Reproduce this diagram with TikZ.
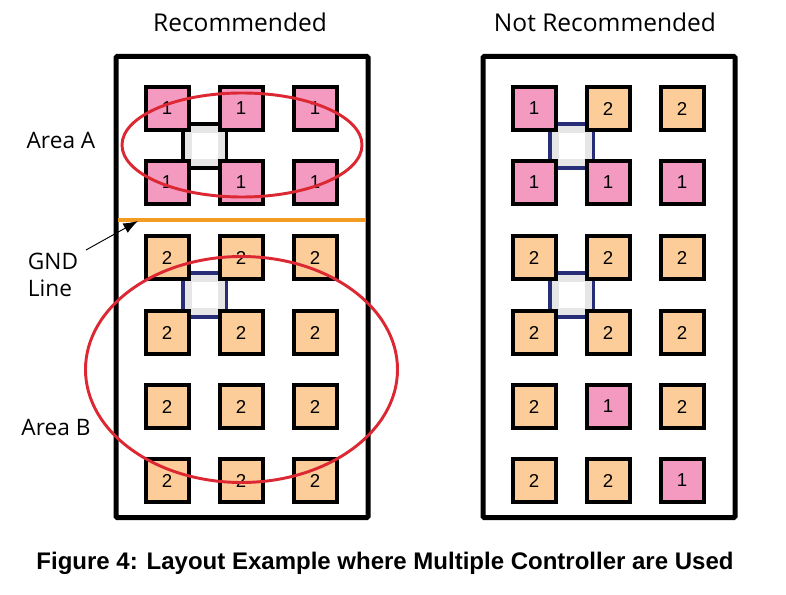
\documentclass[tikz,border=0pt]{standalone}
\usepackage{fontspec}
\setmainfont{Liberation Sans}
\newfontfamily\labelfont{Open Sans}
\usetikzlibrary{arrows.meta,positioning,shapes.geometric}

\begin{document}
\begin{tikzpicture}[
      x=0.75pt, y=-0.75pt,
      panel/.style={
          rectangle,
          rounded corners=1pt,
          draw=black,
          line width=3.75pt,
          minimum width=189pt,
          minimum height=346pt
        },
      pad/.style={
          rectangle,
          draw=black,
          line width=3pt,
          minimum width=32.25pt,
          minimum height=32.25pt,
          inner sep=0pt,
          font=\fontsize{14}{16}\selectfont
        },
      padone/.style={pad, fill=padpink},
      padtwo/.style={pad, fill=padorange},
      via/.style={
          rectangle,
          draw=#1,
          line width=2.8pt,
          fill=white,
          minimum width=32.6pt,
          minimum height=32.6pt,
          inner sep=0pt
        },
      viahole/.style={
          rectangle,
          draw=viagrey,
          line width=5.25pt,
          fill=white,
          minimum width=24.75pt,
          minimum height=24.75pt,
          inner sep=0pt
        },
      area/.style={ellipse, draw=areared, line width=2.2pt, inner sep=0pt},
      heading/.style={font=\labelfont\fontsize{18.4}{22}\selectfont},
      side/.style={font=\labelfont\fontsize{17}{20}\selectfont, align=left},
      >=Latex
    ]
    \definecolor{padpink}{RGB}{244,154,193}
    \definecolor{padorange}{RGB}{253,205,153}
    \definecolor{viagrey}{RGB}{230,230,230}
    \definecolor{areared}{RGB}{220,40,50}
    \definecolor{viablue}{RGB}{40,45,120}
    \definecolor{gndorange}{RGB}{243,156,36}
    \useasboundingbox (0,0) rectangle (786,595);

    % Panels
    \node[panel] at (242,287) (left)  {};
    \node[panel] at (609,287) (right) {};

    % Headings and side labels
    \node[heading] at (240,22) (headleft)  {Recommended};
    \node[heading] at (605,22) (headright) {Not Recommended};
    \node[side] at (61,140) (areaa) {Area A};
    \node[side] at (56,427) (areab) {Area B};
    \node[side] at (53,275) (gndlabel) {GND\\Line};

    % Vias
    \node[via=black]   at (204.5,146) (vialefta)  {};
    \node[viahole]     at (204.5,146) (holelefta) {};
    \node[via=viablue] at (204.5,295) (vialeftb)  {};
    \node[viahole]     at (204.5,295) (holeleftb) {};
    \node[via=viablue] at (571.5,146) (viarighta)  {};
    \node[viahole]     at (571.5,146) (holerighta) {};
    \node[via=viablue] at (571.5,295) (viarightb)  {};
    \node[viahole]     at (571.5,295) (holerightb) {};

    % Left pads
    \node[padone] at (167,108.5) (la1) {1};
    \node[padone] at (241,108.5) (la2) {1};
    \node[padone] at (315,108.5) (la3) {1};
    \node[padone] at (167,182.5) (lb1) {1};
    \node[padone] at (241,182.5) (lb2) {1};
    \node[padone] at (315,182.5) (lb3) {1};
    \node[padtwo] at (167,257.5) (lc1) {2};
    \node[padtwo] at (241,257.5) (lc2) {2};
    \node[padtwo] at (315,257.5) (lc3) {2};
    \node[padtwo] at (167,332.5) (ld1) {2};
    \node[padtwo] at (241,332.5) (ld2) {2};
    \node[padtwo] at (315,332.5) (ld3) {2};
    \node[padtwo] at (167,406.5) (le1) {2};
    \node[padtwo] at (241,406.5) (le2) {2};
    \node[padtwo] at (315,406.5) (le3) {2};
    \node[padtwo] at (167,480.5) (lf1) {2};
    \node[padtwo] at (241,480.5) (lf2) {2};
    \node[padtwo] at (315,480.5) (lf3) {2};

    % Right pads
    \node[padone] at (534,108.5) (ra1) {1};
    \node[padtwo] at (608,108.5) (ra2) {2};
    \node[padtwo] at (682,108.5) (ra3) {2};
    \node[padone] at (534,182.5) (rb1) {1};
    \node[padone] at (608,182.5) (rb2) {1};
    \node[padone] at (682,182.5) (rb3) {1};
    \node[padtwo] at (534,257.5) (rc1) {2};
    \node[padtwo] at (608,257.5) (rc2) {2};
    \node[padtwo] at (682,257.5) (rc3) {2};
    \node[padtwo] at (534,332.5) (rd1) {2};
    \node[padtwo] at (608,332.5) (rd2) {2};
    \node[padtwo] at (682,332.5) (rd3) {2};
    \node[padtwo] at (534,406.5) (re1) {2};
    \node[padone] at (608,406.5) (re2) {1};
    \node[padtwo] at (682,406.5) (re3) {2};
    \node[padtwo] at (534,480.5) (rf1) {2};
    \node[padtwo] at (608,480.5) (rf2) {2};
    \node[padone] at (682,480.5) (rf3) {1};

    % GND line and its pointer
    \coordinate (gndwest) at (118,220);
    \coordinate (gndeast) at (365,220);
    \coordinate (gndtip)  at (138,221);
    \coordinate (gndtail) at (86,250);
    \draw[gndorange, line width=3.6pt] (gndwest) -- (gndeast);
    \draw[->, line width=0.7pt, >={Latex[length=11pt,width=8pt]}] (gndtail) -- (gndtip);

    % Red area outlines
    \node[area, minimum width=180pt, minimum height=78pt] at (242,145) (areatop) {};
    \node[area, minimum width=234pt, minimum height=169.5pt] at (241.5,369.5) (areabottom) {};

    % Caption
    \node[font=\bfseries\fontsize{18}{21}\selectfont] at (385,563) (caption)
    {Figure 4: Layout Example where Multiple Controller are Used};
  \end{tikzpicture}
\end{document}
